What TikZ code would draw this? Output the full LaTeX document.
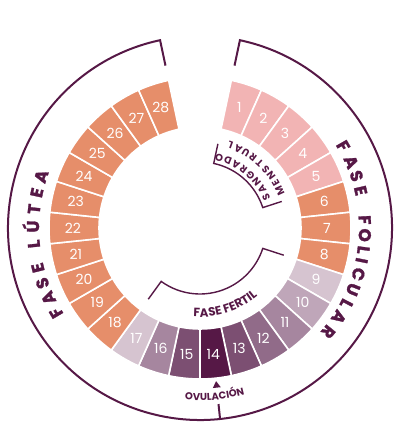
\documentclass[tikz,border=0pt]{standalone}
\usepackage{fontspec}
\setmainfont{Poppins}
\newfontfamily\heavyfam{Poppins}[FakeBold=1.6]
\usetikzlibrary{decorations.text}

\definecolor{plum}{HTML}{561846}
\definecolor{pinkday}{HTML}{F2B4B4}
\definecolor{orangeday}{HTML}{E68E6A}
\definecolor{fertA}{HTML}{D6C4D0}
\definecolor{fertB}{HTML}{BFA6B9}
\definecolor{fertC}{HTML}{A6869F}
\definecolor{fertD}{HTML}{916B89}
\definecolor{fertE}{HTML}{7C4F72}

\newcommand{\phasefont}{\heavyfam\bfseries\fontsize{17}{17}\selectfont}
\newcommand{\smallfont}{\bfseries\fontsize{10}{10}\selectfont}

\tikzset{
  daybox/.style={draw=white, line width=1.6pt},
  daynum/.style={text=white, font=\fontsize{14}{14}\selectfont, inner sep=0pt},
  phaselbl/.style={text=plum, anchor=base, inner sep=0pt},
  bracket/.style={draw=plum, line width=1.4pt},
}

\begin{document}
\begin{tikzpicture}[x=1pt, y=1pt]
    \useasboundingbox (-200,-211) rectangle (200,228);

    % Dias del ciclo
    \foreach \d/\col in {1/pinkday, 2/pinkday, 3/pinkday, 4/pinkday, 5/pinkday,
        6/orangeday, 7/orangeday, 8/orangeday,
        9/fertA, 10/fertB, 11/fertC, 12/fertD, 13/fertE, 14/plum,
        15/fertE, 16/fertC, 17/fertA,
        18/orangeday, 19/orangeday, 20/orangeday, 21/orangeday, 22/orangeday,
        23/orangeday, 24/orangeday, 25/orangeday, 26/orangeday, 27/orangeday, 28/orangeday} {
        \pgfmathsetmacro\ang{-84+(14-\d)*12}
        \fill[\col, daybox] ({\ang-6}:101) arc[start angle=\ang-6, end angle=\ang+6, radius=101]
            -- ({\ang+6}:151) arc[start angle=\ang+6, end angle=\ang-6, radius=151] -- cycle;
        \node[daynum] (d\d) at (\ang:127) {\d};
    }

    % Arco exterior
    \draw[bracket, line width=2pt] (78:166) -- (78:192) arc[start angle=78, end angle=-258, radius=192] -- (102:166);
    \draw[bracket, line width=2pt] (-84:177) -- (-84:192);

    % Fase folicular
    \foreach \letra/\ang in {F/29.8, A/23.6, S/18.4, E/13.1, F/2.8, O/-2.5, L/-7.7, I/-11.4,
        C/-16.3, U/-21.9, L/-27.4, A/-32.7, R/-39.0}
        \node[phaselbl, rotate=\ang-90] at (\ang:159) {\phasefont\letra};

    % Fase lutea
    \foreach \letra/\ang in {F/210.5, A/204.8, S/199.3, E/193.8, L/185.5, Ú/179.5, T/173.5, E/167.8, A/162.0}
        \node[phaselbl, rotate=\ang-90] at (\ang:161) {\phasefont\letra};

    % Sangrado menstrual
    \draw[bracket] (78:86) -- (78:66) arc[start angle=78, end angle=18, radius=66] -- (18:86);
    \foreach \letra [count=\i] in {S,A,N,G,R,A,D,O}
        \node[phaselbl, rotate=25+(\i-1)*7.1+90] at ({25+(\i-1)*7.1}:76.5) {\smallfont\letra};
    \foreach \letra [count=\i] in {M,E,N,S,T,R,U,A,L}
        \node[phaselbl, rotate=25+(\i-1)*5.6+90] at ({25+(\i-1)*5.6}:91.5) {\smallfont\letra};

    % Fase fertil
    \draw[bracket] (-126:88) -- (-126:66) arc[start angle=-126, end angle=-18, radius=66] -- (-18:88);
    \path[decorate, decoration={text along path, text align=center,
        text={|\bfseries\fontsize{12}{12}\selectfont\color{plum}|FASE FERTIL}}]
        (-122:89) arc[start angle=-122, end angle=-22, radius=89];

    % Ovulacion
    \begin{scope}[rotate=-84]
        \fill[plum] (154,0) -- (160.5,4) -- (160.5,-4) -- cycle;
    \end{scope}
    \path[decorate, decoration={text along path, text align=center,
        text={|\bfseries\fontsize{10}{10}\selectfont\color{plum}|OVULACIÓN}}]
        (-120:172.5) arc[start angle=-120, end angle=-50, radius=172.5];
\end{tikzpicture}
\end{document}
